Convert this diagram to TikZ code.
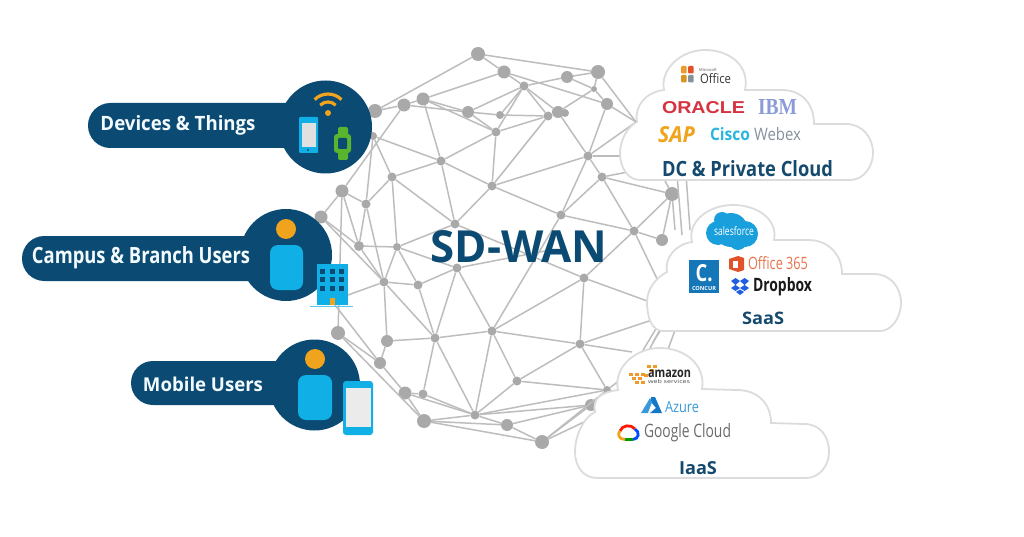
\documentclass[tikz,border=0pt]{standalone}
\usepackage{graphicx}
\usepackage{fontspec}
\setmainfont{Open Sans}
\newfontfamily\serifb{Liberation Serif}
\newfontfamily\sansb{Liberation Sans}
\definecolor{navy}{HTML}{0B4A73}
\definecolor{sky}{HTML}{10B0E6}
\definecolor{amberc}{HTML}{F0A31C}
\definecolor{netline}{HTML}{BDBDBD}
\definecolor{netnode}{HTML}{A9A9A9}
\definecolor{cloudline}{HTML}{DCDCDC}
\definecolor{labelc}{HTML}{154A6E}
\definecolor{sfblue}{HTML}{1A9FDD}
\definecolor{oraclered}{HTML}{D6323F}
\definecolor{ibmblue}{HTML}{8A9BD8}
\definecolor{ciscoc}{HTML}{2BB5E0}
\definecolor{webexc}{HTML}{84929E}
\definecolor{watchc}{HTML}{5AB52E}
\definecolor{concurc}{HTML}{1576B8}
\definecolor{officec}{HTML}{E2522A}
\definecolor{officet}{HTML}{E9734F}
\definecolor{dropc}{HTML}{1F5FE0}
\definecolor{azurec}{HTML}{3A9AD9}
\definecolor{azured}{HTML}{1278C8}
\definecolor{awsc}{HTML}{EE9A2C}
\newcommand{\fitbox}[3]{\resizebox{#1pt}{#2pt}{#3}}
\tikzset{
  nd/.style={circle,fill=netnode,draw=none,inner sep=0pt,minimum size=2*#1 pt},
  netedge/.style={draw=netline,line width=1.5pt},
  cloudshape/.style={draw=cloudline,fill=white,line width=1.8pt},
  pill/.style={fill=navy},
  pilltext/.style={text=white!95!sky,font=\bfseries,inner sep=0pt},
  lg/.style={inner sep=0pt,outer sep=0pt},
  cloudtitle/.style={inner sep=0pt,text=labelc,font=\bfseries}
}
\begin{document}
\begin{tikzpicture}[x=1pt,y=-1pt]
\useasboundingbox (0,0) rectangle (1024,537);
\fill[white] (0,0) rectangle (1024,537);
% network nodes
\foreach \n/\x/\y/\r in {a1/478/54/7,a2/504/72/6.5,a3/375/111/7,a4/404/105/6.5,a5/423/99/6.5,a6/468/112/6,a7/500/115/4,a8/496/132/4.5,a9/441/161/4.5,a10/392/177/4.5,a11/373/136/4,a12/342/191/6.5,a13/366/204/4.5,a14/321/217/6.5,a15/492/186/4.5,a16/455/224/4.5,
b2/567/77/6,b3/598/72/7,b4/524/86/4.5,b5/594/89/3,b6/607/104/6,b8/548/116/4.5,b9/558/112/6,b9x/565/113/4,b11/636/122/2,b12/588/156/4.5,b13/602/177/4.5,b15/561/215/4.5,b16/672/194/7,b17/634/231/4.5,b18/662/240/6,
c1/384/282/4.5,c2/418/285/4.5,c3/457/268/4.5,c4/338/333/7,c5/387/341/6,c6/435/338/4.5,c7/492/331/4.5,c8/380/363/6,c9/405/393/6.5,c10/423/394/4.5,c11/424/421/7,c12/475/415/4.5,c13/507/425/6,c14/359/246/5,c15/397/247/4,
d1/584/278/4.5,d3/580/344/4.5,d4/517/381/4.5,d5/607/390/4,d6/591/405/6,d8/542/442/7}
  {\node[nd=\r] (\n) at (\x,\y) {};}
% free ends of connectors (hidden behind clouds and icons)
\foreach \n/\x/\y in {j1/545/251,e1/650/302,e2/652/320,e3/632/352,e4/660/285,e5/622/156,e6/628/172,e7/640/118,e8/348/295,e9/335/305,e10/620/380,e11/612/395,e12/605/412,
f1/662/175,f2/675/230,f3/677/175,f4/682/235,f5/686/175,f6/690/230,
g1/642/352,g2/660/322,g3/648/352,g4/664/322,g5/653/342,g6/666/322,g7/667/352,g8/677/325}
  {\coordinate (\n) at (\x,\y);}
% connectors
\foreach \u/\v in {a1/a2,a1/a3,a1/b3,a2/a5,a2/b4,a2/b6,a3/a4,a4/a5,a4/a6,a5/a6,a5/a8,a6/a7,a6/b4,a7/b4,a7/b8,a8/b4,a8/b8,a6/a8,a5/a9,a4/a12,a12/a14,a11/a9,a9/a8,a9/a10,a9/a15,a9/a16,a11/a10,a10/a13,a10/a16,a10/c15,a13/a12,a11/a13,a15/a8,a15/a16,a15/b8,a15/b12,a15/b15,
b4/b2,b2/b3,b2/b5,b3/b5,b3/b11,b5/b6,b5/b9,b4/b9,b4/b8,b8/b9,b9/b12,b6/b12,b12/b11,b6/b11,b12/b15,b12/b13,b12/e5,b13/e6,b13/b16,b13/b15,b13/b17,b15/b17,b15/c7,b17/b16,b17/b18,b16/b18,b17/d1,b17/e4,a16/d1,c3/j1,a16/c15,
c1/c2,c1/c6,c1/c14,c1/c15,c1/c5,c1/a14,c1/a13,c14/a13,c14/a12,c14/a14,c14/c15,c1/e8,c15/c2,c2/c3,c2/c6,c3/c6,c3/c7,c3/c15,c5/c6,c5/c8,c6/c7,c6/c12,c6/c10,c7/c12,c4/c8,c4/c11,c4/a12,c8/c9,c8/e9,c9/c11,c9/c10,c10/c12,c9/c12,c11/c12,c11/c13,c11/d8,c12/c13,c12/d6,c12/d5,c7/d1,c7/d3,c7/d4,d1/d3,d1/e1,d3/d4,d3/d5,d3/e2,d3/e3,d4/d5,d4/c12,d6/d5,d6/d8,d6/c13,d8/d5,d8/c13,d5/e10,d6/e11,d8/e12,
b16/f1,b16/f2,f3/f4,f5/f6,g1/g2,g3/g4,g5/g6,g7/g8}
  {\draw[netedge] (\u) -- (\v);}
% clouds
\path[cloudshape] (640,180) -- (850,180) .. controls (864,180) and (873,166) .. (873,153) .. controls (873,137) and (862,124) .. (846,124) -- (814,124) .. controls (814,104) and (802,90) .. (782,90) -- (745,90) .. controls (750,66) and (730,50) .. (705,50) .. controls (680,50) and (660,70) .. (664,90) .. controls (646,92) and (634,106) .. (637,122) .. controls (628,126) and (620,140) .. (620,153) .. controls (620,168) and (628,180) .. (640,180) -- cycle;
\path[cloudshape] (663,331) -- (880,331) .. controls (892,331) and (901,317) .. (901,303) .. controls (901,287) and (890,274) .. (874,274) -- (842,274) .. controls (842,254) and (828,240) .. (808,240) -- (774,240) .. controls (778,220) and (758,205) .. (733,205) .. controls (708,205) and (687,222) .. (692,242) .. controls (676,244) and (664,258) .. (667,272) .. controls (655,278) and (647,290) .. (647,302) .. controls (647,318) and (652,331) .. (663,331) -- cycle;
\path[cloudshape] (597,478) -- (806,478) .. controls (820,478) and (829,465) .. (829,452) .. controls (829,436) and (820,424) .. (804,424) -- (771,423) .. controls (771,403) and (757,390) .. (737,390) -- (702,389) .. controls (706,365) and (685,348) .. (660,348) .. controls (635,348) and (613,368) .. (618,390) .. controls (602,392) and (592,398) .. (595,412) .. controls (583,418) and (575,436) .. (575,452) .. controls (575,466) and (583,478) .. (597,478) -- cycle;
% pills
\fill[pill,rounded corners=22.4pt] (88,103) rectangle (326,148);
\fill[pill] (325.5,127) circle (46.5pt);
\fill[pill,rounded corners=22.4pt] (22,236) rectangle (288,281);
\fill[pill] (286,255) circle (46pt);
\fill[pill,rounded corners=22pt] (131,361) rectangle (316,405);
\fill[pill] (314.5,385) circle (45.5pt);
\node[pilltext,lg] (t1) at (178,125) {\fitbox{155}{15}{Devices \& Things}};
\node[pilltext,lg] (t2) at (141,258) {\fitbox{218}{17}{Campus \& Branch Users}};
\node[pilltext,lg] (t3) at (203,384) {\fitbox{120}{14.5}{Mobile Users}};
% devices icons
\draw[amberc,line width=3.2pt] (314.6,99.6) arc (135:45:19pt);
\draw[amberc,line width=3.2pt] (320.2,105.2) arc (135:45:11pt);
\fill[amberc] (328,113) circle (3pt);
\fill[sky,rounded corners=1pt] (299,117) rectangle (318,153);
\fill[black!12] (302,123) rectangle (316,147);
\fill[navy] (308,150) circle (1.2pt);
\fill[watchc,rounded corners=2pt] (338,127) rectangle (348,160);
\fill[watchc,rounded corners=3pt] (334,134) rectangle (351,153);
\fill[navy,rounded corners=1pt] (338,138) rectangle (347,149);
% campus person & building
\fill[amberc] (286,229) circle (10pt);
\fill[sky,rounded corners=8pt] (270,245) rectangle (303,290);
\fill[sky] (317,264) rectangle (348,305);
\fill[sky!70] (310,305.5) rectangle (353,307);
\foreach \wx in {322,332,341}\foreach \wy in {271,279,288}{\fill[navy] (\wx-2.5,\wy-2.5) rectangle (\wx+2.5,\wy+2.5);}
\fill[amberc] (329.5,298) rectangle (334.5,305);
% mobile person & phone
\fill[amberc] (315,359) circle (10pt);
\fill[sky,rounded corners=8pt] (298,375) rectangle (332,420);
\fill[sky,rounded corners=3pt] (343,381) rectangle (373,435);
\fill[black!8] (346,388) rectangle (371,427);
% title
\node[lg,text=navy,font=\bfseries] (title) at (519,247) {\fitbox{177}{32}{SD-WAN}};
% DC cloud contents
\foreach \sx/\sy/\sc in {681/66/awsc,688/66/officec,681/75/awsc!80!olive,688/75/webexc}{\fill[\sc,rounded corners=1pt] (\sx,\sy) rectangle ++(5.5,7.5);}
\node[lg,text=black!65,font=\fontsize{4}{4}\selectfont] (msft) at (708,70) {Microsoft};
\node[lg,text=black!80] (office) at (715.5,78.5) {\fitbox{31}{10}{Office}};
\node[lg,text=oraclered] (oracle) at (703.5,107.5) {\fitbox{83}{12}{\sansb\bfseries ORACLE}};
\node[lg,text=ibmblue] (ibm) at (777.5,107.5) {\fitbox{39}{15}{\serifb\bfseries IBM}};
\node[lg,text=amberc,font=\bfseries\itshape] (sap) at (676.5,135) {\fitbox{37}{16}{SAP}};
\node[lg,text=ciscoc,font=\bfseries] (cisco) at (730,134.5) {\fitbox{40}{13}{Cisco}};
\node[lg,text=webexc] (webex) at (777.5,134.5) {\fitbox{47}{13}{Webex}};
\node[cloudtitle] (dc) at (747.5,168.5) {\fitbox{171}{16}{DC \& Private Cloud}};
% SaaS cloud contents
\fill[sfblue] (731,230) circle (17pt) (718,233) circle (12pt) (745,234) circle (13pt) (722,220) circle (8pt) (738,241) circle (9pt);
\node[lg,text=white] (sf) at (734,231) {\fitbox{40}{9}{salesforce}};
\fill[concurc] (689,260) rectangle (719,293);
\node[lg,text=white,font=\bfseries] (concurc) at (704,273) {\fitbox{17}{17}{C.}};
\node[lg,text=white,font=\bfseries] (concur) at (704,289) {\fitbox{24}{4}{CONCUR}};
\fill[officec] (729,259) -- (738,256) -- (744,258) -- (744,270) -- (738,272) -- (729,269) -- cycle;
\fill[white] (733,260.5) rectangle (738,268);
\node[lg,text=officet] (o365) at (778,263.5) {\fitbox{60}{13}{Office 365}};
\fill[dropc] (735.5,278) -- (740,281) -- (735.5,285) -- (731,281) -- cycle (744.5,278) -- (749,281) -- (744.5,285) -- (740,281) -- cycle (735.5,285) -- (740,288) -- (735.5,291) -- (731,288) -- cycle (744.5,285) -- (749,288) -- (744.5,291) -- (740,288) -- cycle (740,289.5) -- (744,292) -- (740,295) -- (736,292) -- cycle;
\node[lg,text=black!90,font=\bfseries] (dropbox) at (782.5,286.5) {\fitbox{59}{14}{Dropbox}};
\node[cloudtitle] (saas) at (763,318) {\fitbox{42}{12.5}{SaaS}};
% IaaS cloud contents
\foreach \ax/\ay in {647/365,653/365,650/369,629/373,635/373,641/373,632/377,638/377,644/374,635/381,641/381}{\fill[awsc] (\ax,\ay) rectangle ++(4.4,3.4);}
\node[lg,text=black!85,font=\bfseries] (amazon) at (669.5,373.5) {\fitbox{43}{7.5}{amazon}};
\node[lg,text=black!70] (aws) at (669,381.7) {\fitbox{42}{4}{web services}};
\fill[azured] (651,397) -- (655,397) -- (662,413) -- (650,413) -- (656,408) -- (651,402) -- cycle;
\fill[azurec] (650,398) -- (641,413) -- (648,413) -- (652,402) -- cycle;
\node[lg,text=azurec] (azure) at (682,407.5) {\fitbox{34}{11}{Azure}};
\draw[red!80!orange,line width=2.8pt] (620,431) .. controls (622,425) and (631,424) .. (635,429);
\draw[blue!70!cyan,line width=2.8pt] (635,429) .. controls (640,432) and (639,439) .. (633,439.5);
\draw[green!60!black,line width=2.8pt] (633,439.5) -- (625,439.5);
\draw[amberc,line width=2.8pt] (625,439.5) .. controls (619,439.5) and (617,434) .. (620,431);
\node[lg,text=black!58] (google) at (687.5,433) {\fitbox{87}{14}{Google Cloud}};
\node[cloudtitle] (iaas) at (698,468) {\fitbox{38}{13}{IaaS}};
\end{tikzpicture}
\end{document}
